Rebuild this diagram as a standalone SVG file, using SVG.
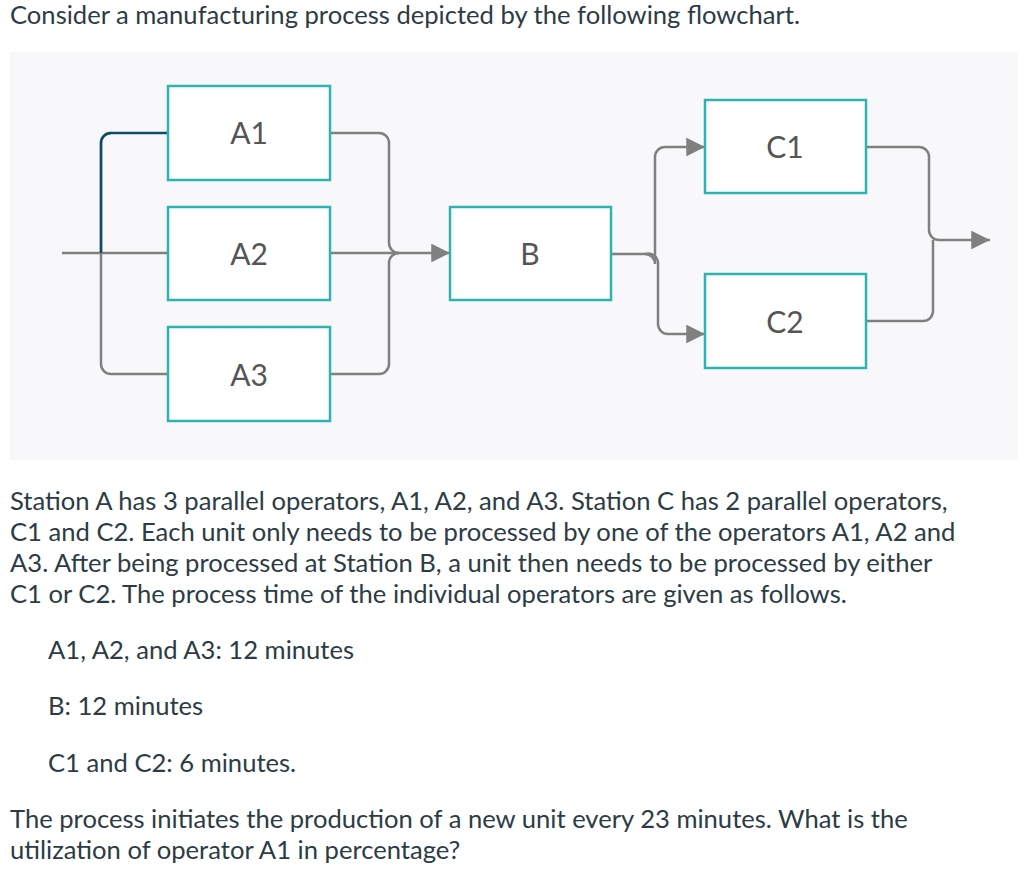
<svg xmlns="http://www.w3.org/2000/svg" width="1024" height="873" viewBox="0 0 1024 873">
<defs>
<style>
.t{font-family:Lato,"Liberation Sans",sans-serif;font-size:25.6px;fill:#2d3b45}
.n rect{fill:#fff;stroke:#2fb3b0;stroke-width:2.5}
.n text{font-family:Lato,"Liberation Sans",sans-serif;font-size:30px;fill:#555;text-anchor:middle}
.c path{fill:none;stroke:#808080;stroke-width:2.5}
</style>
<marker id="ar" viewBox="0 0 10 10" refX="10" refY="5" markerWidth="7.5" markerHeight="7.5" orient="auto" markerUnits="strokeWidth"><path d="M0,0L10,5L0,10z" fill="#808080"/></marker>
</defs>
<rect width="1024" height="873" fill="#fff"/>
<text class="t" x="10" y="24">Consider a manufacturing process depicted by the following flowchart.</text>
<rect x="10" y="52" width="1008" height="408" fill="#f8f8fa"/>
<g class="c">
<path d="M62,253H168"/>
<path d="M168,374H111a10,10 0 0 1-10-10V143a10,10 0 0 1 10-10" />
<path d="M168,133H111a10,10 0 0 0-10,10V253" style="stroke:#0e4a6a"/>
<path d="M330,133H379a10,10 0 0 1 10,10V243a10,10 0 0 0 10,10"/>
<path d="M330,374H379a10,10 0 0 0 10-10V263a10,10 0 0 1 10-10"/>
<path d="M330,253H450" marker-end="url(#ar)"/>
<path d="M611,254H645a10,10 0 0 1 10,10V157a10,10 0 0 1 10-10H705" marker-end="url(#ar)"/>
<path d="M645,254a10,10 0 0 1 13,10V324a10,10 0 0 0 10,10H705" marker-end="url(#ar)"/>
<path d="M866,147H919a10,10 0 0 1 10,10V230a10,10 0 0 0 10,10H990" marker-end="url(#ar)"/>
<path d="M866,321H923a10,10 0 0 0 10-10V240"/>
</g>
<g id="A1" class="n"><rect x="168" y="86" width="162" height="94"/><text x="249" y="144">A1</text></g>
<g id="A2" class="n"><rect x="168" y="207" width="162" height="93"/><text x="249" y="265">A2</text></g>
<g id="A3" class="n"><rect x="168" y="327" width="162" height="94"/><text x="249" y="386">A3</text></g>
<g id="B" class="n"><rect x="450" y="207" width="161" height="93"/><text x="530" y="265">B</text></g>
<g id="C1" class="n"><rect x="705" y="100" width="161" height="93"/><text x="785" y="158">C1</text></g>
<g id="C2" class="n"><rect x="705" y="274" width="161" height="94"/><text x="785" y="333">C2</text></g>
<text class="t" x="10" y="510">Station A has 3 parallel operators, A1, A2, and A3. Station C has 2 parallel operators,</text>
<text class="t" x="10" y="541">C1 and C2. Each unit only needs to be processed by one of the operators A1, A2 and</text>
<text class="t" x="10" y="572">A3. After being processed at Station B, a unit then needs to be processed by either</text>
<text class="t" x="10" y="603">C1 or C2. The process time of the individual operators are given as follows.</text>
<text class="t" x="48" y="659">A1, A2, and A3: 12 minutes</text>
<text class="t" x="48" y="715">B: 12 minutes</text>
<text class="t" x="48" y="772">C1 and C2: 6 minutes.</text>
<text class="t" x="10" y="828">The process initiates the production of a new unit every 23 minutes. What is the</text>
<text class="t" x="10" y="859">utilization of operator A1 in percentage?</text>
</svg>
